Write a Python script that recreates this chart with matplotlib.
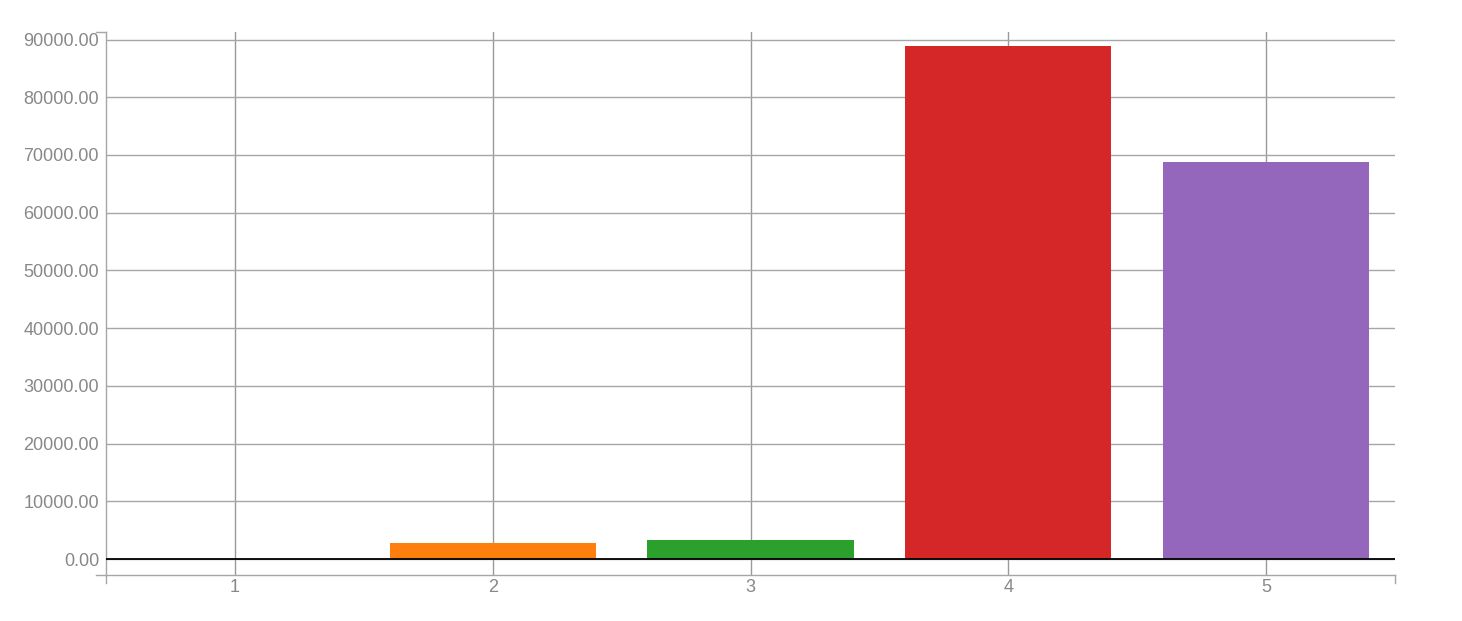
import numpy as np
import matplotlib
matplotlib.use("Agg")
import matplotlib.pyplot as plt

# data
categories = [1, 2, 3, 4, 5]
values = [0, 2820, 3240, 88800, 68760]
bar_colors = ['#1f77b4', '#ff7f0e', '#2ca02c', '#d62728', '#9467bd']
y_ticks = np.arange(0, 90001, 10000)

plt.rcParams['font.family'] = ['Liberation Sans', 'DejaVu Sans']

W, H = 1462, 621
fig = plt.figure(figsize=(W / 100, H / 100), dpi=100)
ax = fig.add_axes([106 / W, (H - 575) / H, (1395 - 106) / W, (575 - 32) / H])

grid_col = '#a6a6a6'
ax.set_axisbelow(True)
ax.grid(True, axis='y', color=grid_col, lw=1)
ax.grid(True, axis='x', color='#999999', lw=1)

ax.bar(categories, values, width=0.8, color=bar_colors, zorder=2)
ax.axhline(0, color='black', lw=1.3, zorder=3)

ax.set_xlim(0.5, 5.5)
ax.set_ylim(-2770, 91300)
ax.set_xticks(categories)
ax.set_yticks(y_ticks)
ax.set_yticklabels(['%.2f' % v for v in y_ticks])

for s in ['top', 'right']:
    ax.spines[s].set_visible(False)
for s in ['left', 'bottom']:
    ax.spines[s].set_color(grid_col)
    ax.spines[s].set_linewidth(1)

ax.tick_params(axis='both', length=0, labelsize=13, labelcolor='#888888')
ax.tick_params(axis='x', pad=3)
ax.tick_params(axis='y', pad=5)

# outer end ticks of the axes, d3 style
kw = dict(transform=ax.transAxes, color=grid_col, lw=1, clip_on=False)
dx = 10 / (1395 - 106)
dy = 8 / (575 - 32)
ax.plot([-dx, 0], [0, 0], **kw)
ax.plot([-dx, 0], [1, 1], **kw)
ax.plot([0, 0], [-dy, 0], **kw)
ax.plot([1, 1], [-dy, 0], **kw)

fig.savefig('out.png', dpi=100)
